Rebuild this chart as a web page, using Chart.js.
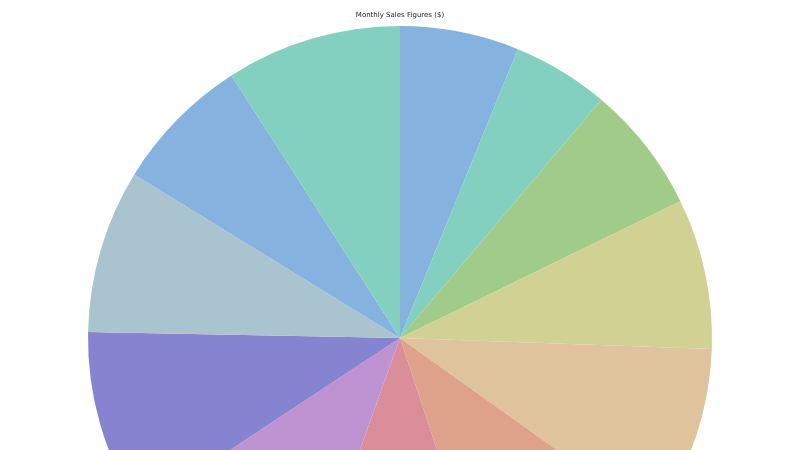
<!DOCTYPE html>
<html>
<head>
<meta charset="utf-8">
<script src="https://cdn.jsdelivr.net/npm/chart.js@4"></script>
<style>
html,body{margin:0;padding:0;background:#fff;overflow:hidden;}
#wrap{position:relative;width:800px;height:650px;}
</style>
</head>
<body>
<div id="wrap"><canvas id="c"></canvas></div>
<script>
const months = ["January","February","March","April","May","June","July","August","September","October","November","December"];
const sales = [11100, 9000, 11900, 14000, 16750, 18100, 19000, 18450, 17250, 15250, 12850, 16350];
const colors = ["#86b2e0","#84d0c0","#a0cb88","#d1d193","#dfc39c","#dea28a","#db8d9a","#bd93d1","#8684d0","#a9c4cf","#86b2e0","#84d0c0"];
const titleText = "Monthly Sales Figures ($)";

new Chart(document.getElementById('c'), {
  type: 'pie',
  data: {
    labels: months,
    datasets: [{ data: sales, backgroundColor: colors, borderWidth: 0 }]
  },
  options: {
    responsive: true,
    maintainAspectRatio: false,
    animation: false,
    layout: { padding: 0 },
    plugins: {
      legend: { display: false },
      tooltip: { enabled: false },
      title: {
        display: true,
        text: titleText,
        color: '#222',
        font: { family: 'DejaVu Sans', size: 7, weight: 'normal' },
        padding: { top: 11, bottom: 6.6 }
      }
    }
  }
});
</script>
</body>
</html>
